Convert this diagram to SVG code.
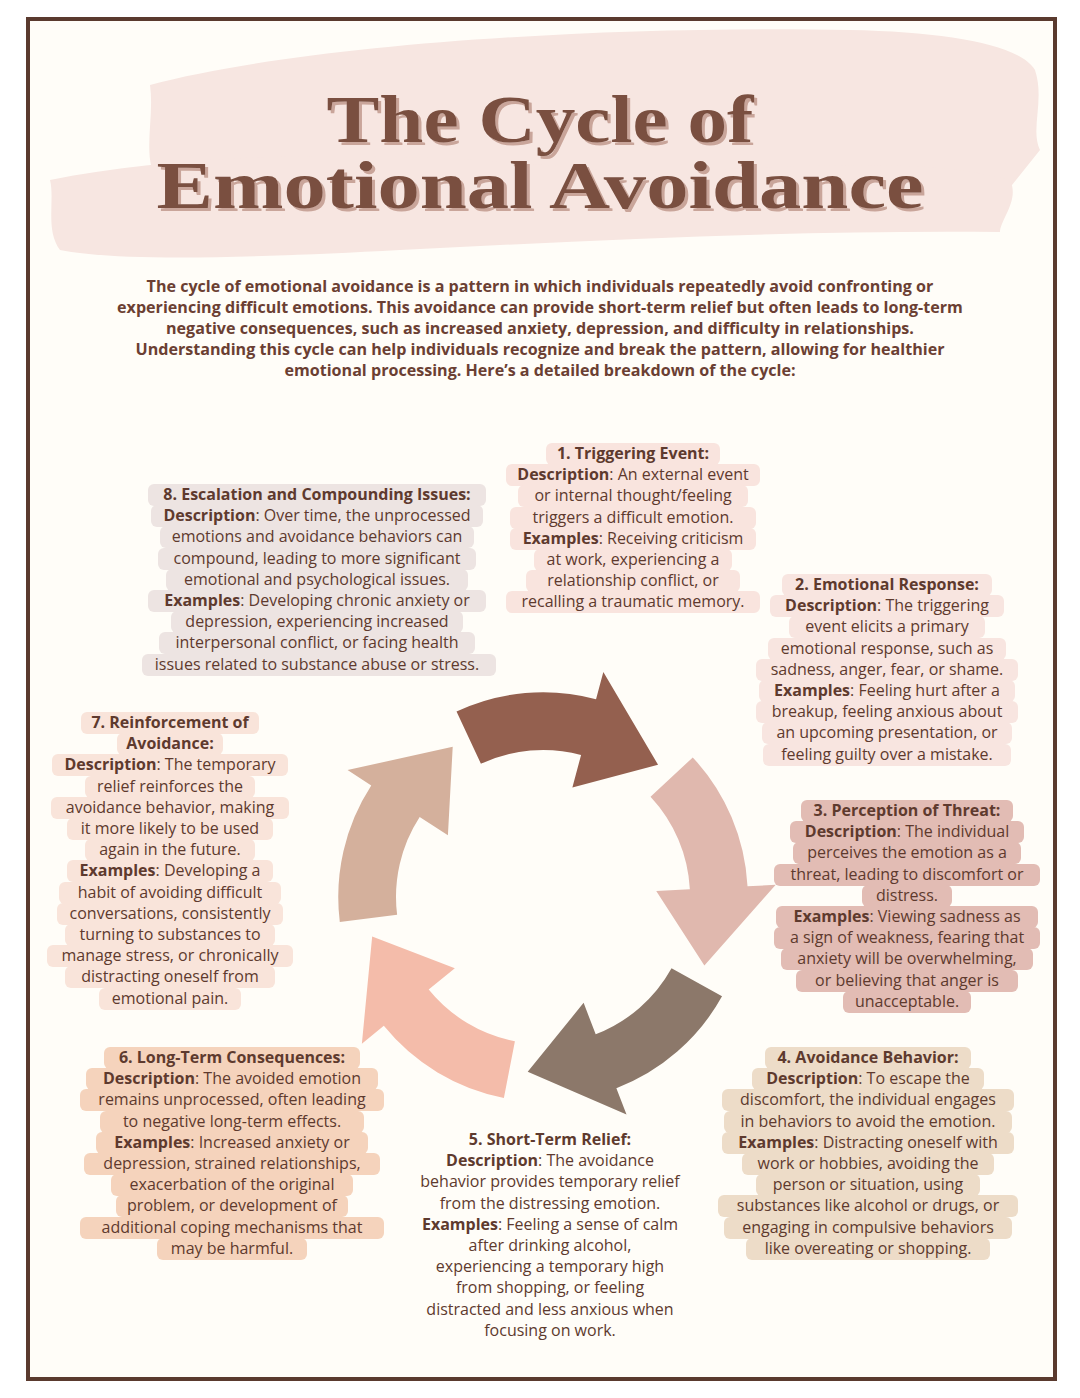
<svg xmlns="http://www.w3.org/2000/svg" width="1080" height="1398" viewBox="0 0 1080 1398">
<style>
.t{font-family:"Open Sans","Liberation Sans",sans-serif;font-size:16px;fill:#5e3a2e;text-anchor:middle}
.b{font-weight:700}
.intro{font-family:"Open Sans","Liberation Sans",sans-serif;font-size:16.1px;font-weight:700;fill:#6b3f33;text-anchor:middle}
.title{font-family:"Liberation Serif",serif;font-weight:700;font-size:68px;text-anchor:middle;fill:#7a5040}
</style>
<defs>
<path id="arw" d="M-73,-180.8 A195,195 0 0 1 60.3,-185.5 L68.6,-211.1 L116,-120.1 L33.4,-102.7 L43.3,-133.2 A140,140 0 0 0 -52.4,-129.8 Z"/>
<filter id="sh" x="-5%" y="-20%" width="110%" height="140%"><feDropShadow dx="3" dy="3" stdDeviation="0" flood-color="#c9a59a"/></filter>
</defs>
<rect width="1080" height="1398" fill="#ffffff"/>
<rect x="28" y="19" width="1027" height="1360" fill="#fffdf8" stroke="#5a3a2e" stroke-width="4"/>
<g id="brush" fill="#f7e6e1">
<path d="M150,85 C300,45 600,25 850,30 C950,32 1020,45 1035,70 C1045,100 1030,130 1040,150 L1000,200 C800,190 600,200 460,190 L160,185 C140,160 155,120 150,85 Z"/>
<path d="M50,180 C200,150 400,150 600,170 C750,175 900,150 1010,180 C1020,200 1000,220 1000,232 C800,230 600,240 400,250 C250,258 120,262 60,250 C45,230 55,200 50,180 Z"/>
</g>
<g id="title" filter="url(#sh)">
<text class="title" x="540" y="142" textLength="427" lengthAdjust="spacingAndGlyphs">The Cycle of</text>
<text class="title" x="540" y="208" textLength="767" lengthAdjust="spacingAndGlyphs">Emotional Avoidance</text>
</g>
<g id="intro" class="intro">
<text x="540" y="292">The cycle of emotional avoidance is a pattern in which individuals repeatedly avoid confronting or</text>
<text x="540" y="313">experiencing difficult emotions. This avoidance can provide short-term relief but often leads to long-term</text>
<text x="540" y="334">negative consequences, such as increased anxiety, depression, and difficulty in relationships.</text>
<text x="540" y="355">Understanding this cycle can help individuals recognize and break the pattern, allowing for healthier</text>
<text x="540" y="376">emotional processing. Here’s a detailed breakdown of the cycle:</text>
</g>
<g id="connectors" transform="translate(543,897) scale(1.05)">
<use href="#arw" fill="#94604f" transform="rotate(-3)"/>
<use href="#arw" fill="#e0b8ae" transform="rotate(69)"/>
<use href="#arw" fill="#8c786a" transform="rotate(141)"/>
<use href="#arw" fill="#f4bcaa" transform="rotate(213)"/>
<use href="#arw" fill="#d4b09c" transform="rotate(285)"/>
</g>
<g id="node1">
<g fill="#f9e4de">
<rect x="546" y="443" width="174" height="22" rx="6"/><rect x="506" y="464" width="254" height="22" rx="6"/><rect x="518" y="485" width="230" height="22" rx="6"/><rect x="510" y="507" width="246" height="22" rx="6"/><rect x="510" y="528" width="246" height="22" rx="6"/><rect x="534" y="549" width="198" height="22" rx="6"/><rect x="526" y="570" width="214" height="22" rx="6"/><rect x="506" y="591" width="254" height="22" rx="6"/>
</g>
<text class="t"><tspan x="633" y="459" class="b">1. Triggering Event:</tspan><tspan x="633" y="480"><tspan class="b">Description</tspan>: An external event</tspan><tspan x="633" y="501">or internal thought/feeling</tspan><tspan x="633" y="523">triggers a difficult emotion.</tspan><tspan x="633" y="544"><tspan class="b">Examples</tspan>: Receiving criticism</tspan><tspan x="633" y="565">at work, experiencing a</tspan><tspan x="633" y="586">relationship conflict, or</tspan><tspan x="633" y="607">recalling a traumatic memory.</tspan></text>
</g>
<g id="node8">
<g fill="#ede4e2">
<rect x="148" y="484" width="338" height="22" rx="6"/><rect x="151" y="505" width="332" height="22" rx="6"/><rect x="160" y="526" width="314" height="22" rx="6"/><rect x="158" y="548" width="318" height="22" rx="6"/><rect x="166" y="569" width="302" height="22" rx="6"/><rect x="148" y="590" width="338" height="22" rx="6"/><rect x="171" y="611" width="292" height="22" rx="6"/><rect x="159" y="632" width="316" height="22" rx="6"/><rect x="142" y="654" width="354" height="22" rx="6"/>
</g>
<text class="t"><tspan x="317" y="500" class="b">8. Escalation and Compounding Issues:</tspan><tspan x="317" y="521"><tspan class="b">Description</tspan>: Over time, the unprocessed</tspan><tspan x="317" y="542">emotions and avoidance behaviors can</tspan><tspan x="317" y="564">compound, leading to more significant</tspan><tspan x="317" y="585">emotional and psychological issues.</tspan><tspan x="317" y="606"><tspan class="b">Examples</tspan>: Developing chronic anxiety or</tspan><tspan x="317" y="627">depression, experiencing increased</tspan><tspan x="317" y="648">interpersonal conflict, or facing health</tspan><tspan x="317" y="670">issues related to substance abuse or stress.</tspan></text>
</g>
<g id="node2">
<g fill="#f8e5e0">
<rect x="782" y="574" width="210" height="22" rx="6"/><rect x="770" y="595" width="234" height="22" rx="6"/><rect x="789" y="616" width="196" height="22" rx="6"/><rect x="768" y="638" width="238" height="22" rx="6"/><rect x="756" y="659" width="262" height="22" rx="6"/><rect x="759" y="680" width="256" height="22" rx="6"/><rect x="756" y="701" width="262" height="22" rx="6"/><rect x="762" y="722" width="250" height="22" rx="6"/><rect x="763" y="744" width="248" height="22" rx="6"/>
</g>
<text class="t"><tspan x="887" y="590" class="b">2. Emotional Response:</tspan><tspan x="887" y="611"><tspan class="b">Description</tspan>: The triggering</tspan><tspan x="887" y="632">event elicits a primary</tspan><tspan x="887" y="654">emotional response, such as</tspan><tspan x="887" y="675">sadness, anger, fear, or shame.</tspan><tspan x="887" y="696"><tspan class="b">Examples</tspan>: Feeling hurt after a</tspan><tspan x="887" y="717">breakup, feeling anxious about</tspan><tspan x="887" y="738">an upcoming presentation, or</tspan><tspan x="887" y="760">feeling guilty over a mistake.</tspan></text>
</g>
<g id="node3">
<g fill="#e2bcb4">
<rect x="801" y="800" width="212" height="22" rx="6"/><rect x="790" y="821" width="234" height="22" rx="6"/><rect x="793" y="842" width="228" height="22" rx="6"/><rect x="774" y="864" width="266" height="22" rx="6"/><rect x="862" y="885" width="90" height="22" rx="6"/><rect x="776" y="906" width="262" height="22" rx="6"/><rect x="774" y="927" width="266" height="22" rx="6"/><rect x="781" y="948" width="252" height="22" rx="6"/><rect x="796" y="970" width="222" height="22" rx="6"/><rect x="843" y="991" width="128" height="22" rx="6"/>
</g>
<text class="t"><tspan x="907" y="816" class="b">3. Perception  of Threat:</tspan><tspan x="907" y="837"><tspan class="b">Description</tspan>: The individual</tspan><tspan x="907" y="858">perceives the emotion as a</tspan><tspan x="907" y="880">threat, leading to discomfort or</tspan><tspan x="907" y="901">distress.</tspan><tspan x="907" y="922"><tspan class="b">Examples</tspan>: Viewing sadness as</tspan><tspan x="907" y="943">a sign of weakness, fearing that</tspan><tspan x="907" y="964">anxiety will be overwhelming,</tspan><tspan x="907" y="986">or believing that anger is</tspan><tspan x="907" y="1007">unacceptable.</tspan></text>
</g>
<g id="node7">
<g fill="#f9e4da">
<rect x="81" y="712" width="178" height="22" rx="6"/><rect x="117" y="733" width="106" height="22" rx="6"/><rect x="52" y="754" width="236" height="22" rx="6"/><rect x="85" y="776" width="170" height="22" rx="6"/><rect x="51" y="797" width="238" height="22" rx="6"/><rect x="67" y="818" width="206" height="22" rx="6"/><rect x="85" y="839" width="170" height="22" rx="6"/><rect x="67" y="860" width="206" height="22" rx="6"/><rect x="59" y="882" width="222" height="22" rx="6"/><rect x="57" y="903" width="226" height="22" rx="6"/><rect x="65" y="924" width="210" height="22" rx="6"/><rect x="47" y="945" width="246" height="22" rx="6"/><rect x="65" y="966" width="210" height="22" rx="6"/><rect x="99" y="988" width="142" height="22" rx="6"/>
</g>
<text class="t"><tspan x="170" y="728" class="b">7. Reinforcement of</tspan><tspan x="170" y="749" class="b">Avoidance:</tspan><tspan x="170" y="770"><tspan class="b">Description</tspan>: The temporary</tspan><tspan x="170" y="792">relief reinforces the</tspan><tspan x="170" y="813">avoidance behavior, making</tspan><tspan x="170" y="834">it more likely to be used</tspan><tspan x="170" y="855">again in the future.</tspan><tspan x="170" y="876"><tspan class="b">Examples</tspan>: Developing a</tspan><tspan x="170" y="898">habit of avoiding difficult</tspan><tspan x="170" y="919">conversations, consistently</tspan><tspan x="170" y="940">turning to substances to</tspan><tspan x="170" y="961">manage stress, or chronically</tspan><tspan x="170" y="982">distracting oneself from</tspan><tspan x="170" y="1004">emotional pain.</tspan></text>
</g>
<g id="node6">
<g fill="#f5d3bc">
<rect x="104" y="1047" width="256" height="22" rx="6"/><rect x="86" y="1068" width="292" height="22" rx="6"/><rect x="80" y="1089" width="304" height="22" rx="6"/><rect x="100" y="1111" width="264" height="22" rx="6"/><rect x="96" y="1132" width="272" height="22" rx="6"/><rect x="84" y="1153" width="296" height="22" rx="6"/><rect x="111" y="1174" width="242" height="22" rx="6"/><rect x="116" y="1195" width="232" height="22" rx="6"/><rect x="80" y="1217" width="304" height="22" rx="6"/><rect x="157" y="1238" width="150" height="22" rx="6"/>
</g>
<text class="t"><tspan x="232" y="1063" class="b">6. Long-Term Consequences:</tspan><tspan x="232" y="1084"><tspan class="b">Description</tspan>: The avoided emotion</tspan><tspan x="232" y="1105">remains unprocessed, often leading</tspan><tspan x="232" y="1127">to negative long-term effects.</tspan><tspan x="232" y="1148"><tspan class="b">Examples</tspan>: Increased anxiety or</tspan><tspan x="232" y="1169">depression, strained relationships,</tspan><tspan x="232" y="1190">exacerbation of the original</tspan><tspan x="232" y="1211">problem, or development of</tspan><tspan x="232" y="1233">additional coping mechanisms that</tspan><tspan x="232" y="1254">may be harmful.</tspan></text>
</g>
<g id="node5">
<text class="t"><tspan x="550" y="1145" class="b">5. Short-Term Relief:</tspan><tspan x="550" y="1166"><tspan class="b">Description</tspan>: The avoidance</tspan><tspan x="550" y="1187">behavior provides temporary relief</tspan><tspan x="550" y="1209">from the distressing emotion.</tspan><tspan x="550" y="1230"><tspan class="b">Examples</tspan>: Feeling a sense of calm</tspan><tspan x="550" y="1251">after drinking alcohol,</tspan><tspan x="550" y="1272">experiencing a temporary high</tspan><tspan x="550" y="1293">from shopping, or feeling</tspan><tspan x="550" y="1315">distracted and less anxious when</tspan><tspan x="550" y="1336">focusing on work.</tspan></text>
</g>
<g id="node4">
<g fill="#eddcc8">
<rect x="765" y="1047" width="206" height="22" rx="6"/><rect x="752" y="1068" width="232" height="22" rx="6"/><rect x="722" y="1089" width="292" height="22" rx="6"/><rect x="724" y="1111" width="288" height="22" rx="6"/><rect x="722" y="1132" width="292" height="22" rx="6"/><rect x="742" y="1153" width="252" height="22" rx="6"/><rect x="756" y="1174" width="224" height="22" rx="6"/><rect x="718" y="1195" width="300" height="22" rx="6"/><rect x="724" y="1217" width="288" height="22" rx="6"/><rect x="746" y="1238" width="244" height="22" rx="6"/>
</g>
<text class="t"><tspan x="868" y="1063" class="b">4. Avoidance Behavior:</tspan><tspan x="868" y="1084"><tspan class="b">Description</tspan>: To escape the</tspan><tspan x="868" y="1105">discomfort, the individual engages</tspan><tspan x="868" y="1127">in behaviors to avoid the emotion.</tspan><tspan x="868" y="1148"><tspan class="b">Examples</tspan>: Distracting oneself with</tspan><tspan x="868" y="1169">work or hobbies, avoiding the</tspan><tspan x="868" y="1190">person or situation, using</tspan><tspan x="868" y="1211">substances like alcohol or drugs, or</tspan><tspan x="868" y="1233">engaging in compulsive behaviors</tspan><tspan x="868" y="1254">like overeating or shopping.</tspan></text>
</g>
</svg>
